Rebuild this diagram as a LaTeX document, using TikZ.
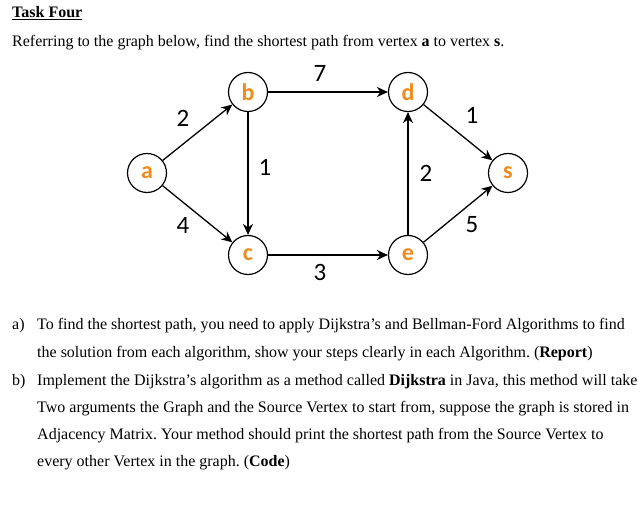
\documentclass[tikz,border=0pt]{standalone}
\usepackage{fontspec}
\setmainfont{Liberation Serif}
\newfontfamily\lbl{Carlito}
\usetikzlibrary{arrows.meta}
\definecolor{vorange}{RGB}{240,140,30}
\tikzset{
  vtx/.style={circle,draw,line width=1.2pt,minimum size=39pt,inner sep=0pt,font=\lbl\fontsize{24}{24}\selectfont\bfseries,text=vorange},
  edge/.style={line width=1.3pt,-{Stealth[length=11pt,width=10pt]}},
  wt/.style={font=\lbl\fontsize{25}{25}\selectfont},
  txt/.style={anchor=base west,inner sep=0pt,font=\fontsize{16}{16}\selectfont}
}
\begin{document}
\frenchspacing
\begin{tikzpicture}[x=1pt,y=-1pt]
\useasboundingbox[fill=white] (0,0) rectangle (643,513);
\node[txt] (t1) at (12,18) {\textbf{\underline{Task Four}}};
\node[txt] (t2) at (12,47) {Referring to the graph below, find the shortest path from vertex \textbf{a} to vertex \textbf{s}.};
\node[vtx] (a) at (147,173) {a};
\node[vtx] (b) at (248,92) {b};
\node[vtx] (c) at (248,255) {c};
\node[vtx] (d) at (408,92) {d};
\node[vtx] (e) at (408,255) {e};
\node[vtx] (s) at (508,173) {s};
\draw[edge] (a) -- (b);
\draw[edge] (a) -- (c);
\draw[edge] (b) -- (c);
\draw[edge] (b) -- (d);
\draw[edge] (c) -- (e);
\draw[edge] (e) -- (d);
\draw[edge] (d) -- (s);
\draw[edge] (e) -- (s);
\node[wt] (w1) at (320,73) {7};
\node[wt] (w2) at (183,118) {2};
\node[wt] (w3) at (183,225) {4};
\node[wt] (w4) at (265,167) {1};
\node[wt] (w5) at (426,173) {2};
\node[wt] (w6) at (472,115) {1};
\node[wt] (w7) at (472,225) {5};
\node[wt] (w8) at (320,272) {3};
\node[txt] (la) at (12,330) {a)};
\node[txt] (l1) at (37,330) {To find the shortest path, you need to apply Dijkstra’s and Bellman-Ford Algorithms to find};
\node[txt] (l2) at (37,357) {the solution from each algorithm, show your steps clearly in each Algorithm. (\textbf{Report})};
\node[txt] (lb) at (12,385) {b)};
\node[txt] (l3) at (37,385) {Implement the Dijkstra’s algorithm as a method called \textbf{Dijkstra} in Java, this method will take};
\node[txt] (l4) at (37,412) {Two arguments the Graph and the Source Vertex to start from, suppose the graph is stored in};
\node[txt] (l5) at (37,439) {Adjacency Matrix. Your method should print the shortest path from the Source Vertex to};
\node[txt] (l6) at (37,466) {every other Vertex in the graph. (\textbf{Code})};
\end{tikzpicture}
\end{document}
